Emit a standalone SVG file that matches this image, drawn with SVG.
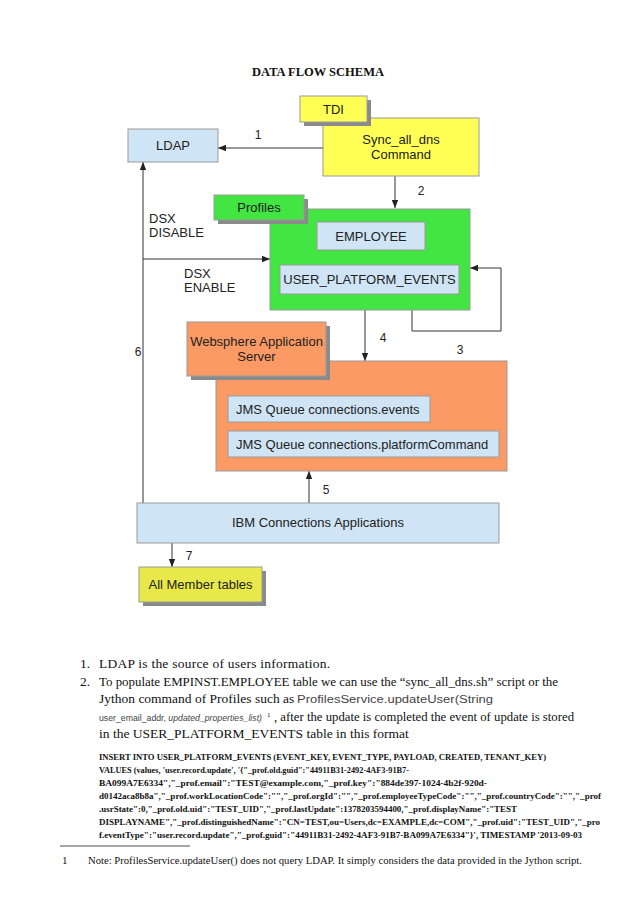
<svg xmlns="http://www.w3.org/2000/svg" width="638" height="903" viewBox="0 0 638 903">
<defs>
<style>
.box{stroke:#9a9a9a;stroke-width:1}
.blue{fill:#cfe4f4}
.yellow{fill:#ffff55}
.green{fill:#42e542}
.orange{fill:#fb9a64}
.myel{fill:#e8e84a}
.shadow{fill:#8a8a8a}
.lbl{font-family:"Liberation Sans",Arial,sans-serif;font-size:13px;fill:#222}
.num{font-family:"Liberation Sans",Arial,sans-serif;font-size:12px;fill:#222}
.edge{fill:none;stroke:#333;stroke-width:1}
.serif{font-family:"Liberation Serif","Times New Roman",serif;fill:#111}
.sql{font-family:"Liberation Serif","Times New Roman",serif;font-weight:bold;font-size:9px;fill:#111}
.small{font-family:"Liberation Sans",Arial,sans-serif;fill:#444}
</style>
<marker id="arr" viewBox="0 0 10 10" refX="10" refY="5" markerWidth="8" markerHeight="8" markerUnits="userSpaceOnUse" orient="auto">
<path d="M0,1 L10,5 L0,9 Z" fill="#222"/>
</marker>
</defs>
<rect width="638" height="903" fill="#fff"/>

<text x="318" y="76" text-anchor="middle" class="serif" font-weight="bold" font-size="12.5">DATA FLOW SCHEMA</text>

<g id="connectors">
<path class="edge" d="M323,148 H218" marker-end="url(#arr)"/>
<path class="edge" d="M395,176 V208" marker-end="url(#arr)"/>
<path class="edge" d="M412,310 V331 H501 V268 H470" marker-end="url(#arr)"/>
<path class="edge" d="M365,310 V361" marker-end="url(#arr)"/>
<path class="edge" d="M309,503 V471" marker-end="url(#arr)"/>
<path class="edge" d="M143,503 V162" marker-end="url(#arr)"/>
<path class="edge" d="M143,259 H270" marker-end="url(#arr)"/>
<path class="edge" d="M172,543 V567" marker-end="url(#arr)"/>
<text x="258" y="139" class="num" text-anchor="middle">1</text>
<text x="421" y="195" class="num" text-anchor="middle">2</text>
<text x="460" y="354" class="num" text-anchor="middle">3</text>
<text x="383" y="342" class="num" text-anchor="middle">4</text>
<text x="326" y="494" class="num" text-anchor="middle">5</text>
<text x="138" y="356" class="num" text-anchor="middle">6</text>
<text x="189" y="560" class="num" text-anchor="middle">7</text>
<text x="149" y="223" class="lbl">DSX</text>
<text x="149" y="237" class="lbl">DISABLE</text>
<text x="184" y="278" class="lbl">DSX</text>
<text x="184" y="292" class="lbl">ENABLE</text>
</g>

<g id="ldap">
<rect x="128" y="129" width="90" height="33" class="box blue"/>
<text x="173" y="150" class="lbl" text-anchor="middle">LDAP</text>
</g>

<g id="sync">
<rect x="323" y="118" width="156" height="58" class="box yellow"/>
<text x="401" y="144" class="lbl" text-anchor="middle">Sync_all_dns</text>
<text x="401" y="159" class="lbl" text-anchor="middle">Command</text>
</g>

<g id="tdi">
<rect x="304" y="100" width="67" height="26" class="shadow"/>
<rect x="300" y="96" width="67" height="26" class="box yellow"/>
<text x="333.5" y="114" class="lbl" text-anchor="middle">TDI</text>
</g>

<g id="profiles">
<rect x="270" y="209" width="200" height="101" class="box green"/>
<rect x="218" y="199" width="90" height="25" class="shadow"/>
<rect x="214" y="195" width="90" height="25" class="box green"/>
<text x="259" y="212" class="lbl" text-anchor="middle">Profiles</text>
</g>

<g id="employee">
<rect x="317" y="222" width="108" height="28" class="box blue"/>
<text x="371" y="241" class="lbl" text-anchor="middle">EMPLOYEE</text>
</g>

<g id="upe">
<rect x="280" y="265" width="179" height="29" class="box blue"/>
<text x="369.5" y="284" class="lbl" text-anchor="middle">USER_PLATFORM_EVENTS</text>
</g>

<g id="was">
<rect x="216" y="361" width="291" height="110" class="box orange"/>
<rect x="191" y="326" width="139" height="54" class="shadow"/>
<rect x="187" y="322" width="139" height="54" class="box orange"/>
<text x="256.5" y="346" class="lbl" text-anchor="middle">Websphere Application</text>
<text x="256.5" y="361" class="lbl" text-anchor="middle">Server</text>
</g>

<g id="jms-events">
<rect x="228" y="396" width="202" height="26" class="box blue"/>
<text x="236" y="414" class="lbl">JMS Queue connections.events</text>
</g>

<g id="jms-platform">
<rect x="228" y="431" width="271" height="26" class="box blue"/>
<text x="236" y="449" class="lbl">JMS Queue connections.platformCommand</text>
</g>

<g id="ibm">
<rect x="137" y="503" width="362" height="40" class="box blue"/>
<text x="318" y="527" class="lbl" text-anchor="middle">IBM Connections Applications</text>
</g>

<g id="members">
<rect x="143" y="571" width="123" height="35" class="shadow"/>
<rect x="139" y="567" width="123" height="35" class="box myel"/>
<text x="200.5" y="589" class="lbl" text-anchor="middle">All Member tables</text>
</g>

<g id="notes">
<text x="80" y="668" class="serif" font-size="13.5">1.</text>
<text x="99" y="668" class="serif" font-size="13.5" textLength="231" lengthAdjust="spacing">LDAP is the source of users information.</text>
<text x="80" y="686" class="serif" font-size="13.5">2.</text>
<text x="99" y="686" class="serif" font-size="13.5" textLength="459" lengthAdjust="spacingAndGlyphs">To populate EMPINST.EMPLOYEE table we can use the “sync_all_dns.sh” script or the</text>
<text x="99" y="703" class="serif" font-size="13.5">Jython command of Profiles such as</text>
<text x="297" y="703" class="small" font-size="10" textLength="196" lengthAdjust="spacingAndGlyphs">ProfilesService.updateUser(String</text>
<text x="99" y="721" class="small" font-size="8.5" textLength="163" lengthAdjust="spacingAndGlyphs">user_email_addr, <tspan font-style="italic">updated_properties_list)</tspan></text>
<text x="267" y="717" class="serif" font-size="7">1</text>
<text x="274" y="721" class="serif" font-size="13.5" textLength="300" lengthAdjust="spacingAndGlyphs">, after the update is completed the event of update is stored</text>
<text x="99" y="738" class="serif" font-size="13.5">in the USER_PLATFORM_EVENTS table in this format</text>

<text x="99" y="760" class="sql" textLength="447" lengthAdjust="spacingAndGlyphs">INSERT INTO USER_PLATFORM_EVENTS (EVENT_KEY, EVENT_TYPE, PAYLOAD, CREATED, TENANT_KEY)</text>
<text x="99" y="773" class="sql" textLength="310" lengthAdjust="spacingAndGlyphs">VALUES (values, 'user.record.update', '{"_prof.old.guid":"44911B31-2492-4AF3-91B7-</text>
<text x="99" y="786" class="sql" textLength="388" lengthAdjust="spacingAndGlyphs">BA099A7E6334","_prof.email":"TEST@example.com,"_prof.key":"884de397-1024-4b2f-920d-</text>
<text x="99" y="799" class="sql" textLength="502" lengthAdjust="spacingAndGlyphs">d0142aca8b8a","_prof.workLocationCode":"","_prof.orgId":"","_prof.employeeTypeCode":"","_prof.countryCode":"","_prof</text>
<text x="99" y="812" class="sql" textLength="418" lengthAdjust="spacingAndGlyphs">.usrState":0,"_prof.old.uid":"TEST_UID","_prof.lastUpdate":1378203594400,"_prof.displayName":"TEST</text>
<text x="99" y="825" class="sql" textLength="501" lengthAdjust="spacingAndGlyphs">DISPLAYNAME","_prof.distinguishedName":"CN=TEST,ou=Users,dc=EXAMPLE,dc=COM","_prof.uid":"TEST_UID","_pro</text>
<text x="99" y="838" class="sql" textLength="483" lengthAdjust="spacingAndGlyphs">f.eventType":"user.record.update","_prof.guid":"44911B31-2492-4AF3-91B7-BA099A7E6334"}', TIMESTAMP '2013-09-03</text>

<line x1="60" y1="846" x2="190" y2="846" stroke="#222" stroke-width="0.8"/>
<text x="62" y="864" class="serif" font-size="11">1</text>
<text x="88" y="864" class="serif" font-size="11" textLength="494" lengthAdjust="spacingAndGlyphs">Note: ProfilesService.updateUser() does not query LDAP. It simply considers the data provided in the Jython script.</text>
</g>
</svg>
